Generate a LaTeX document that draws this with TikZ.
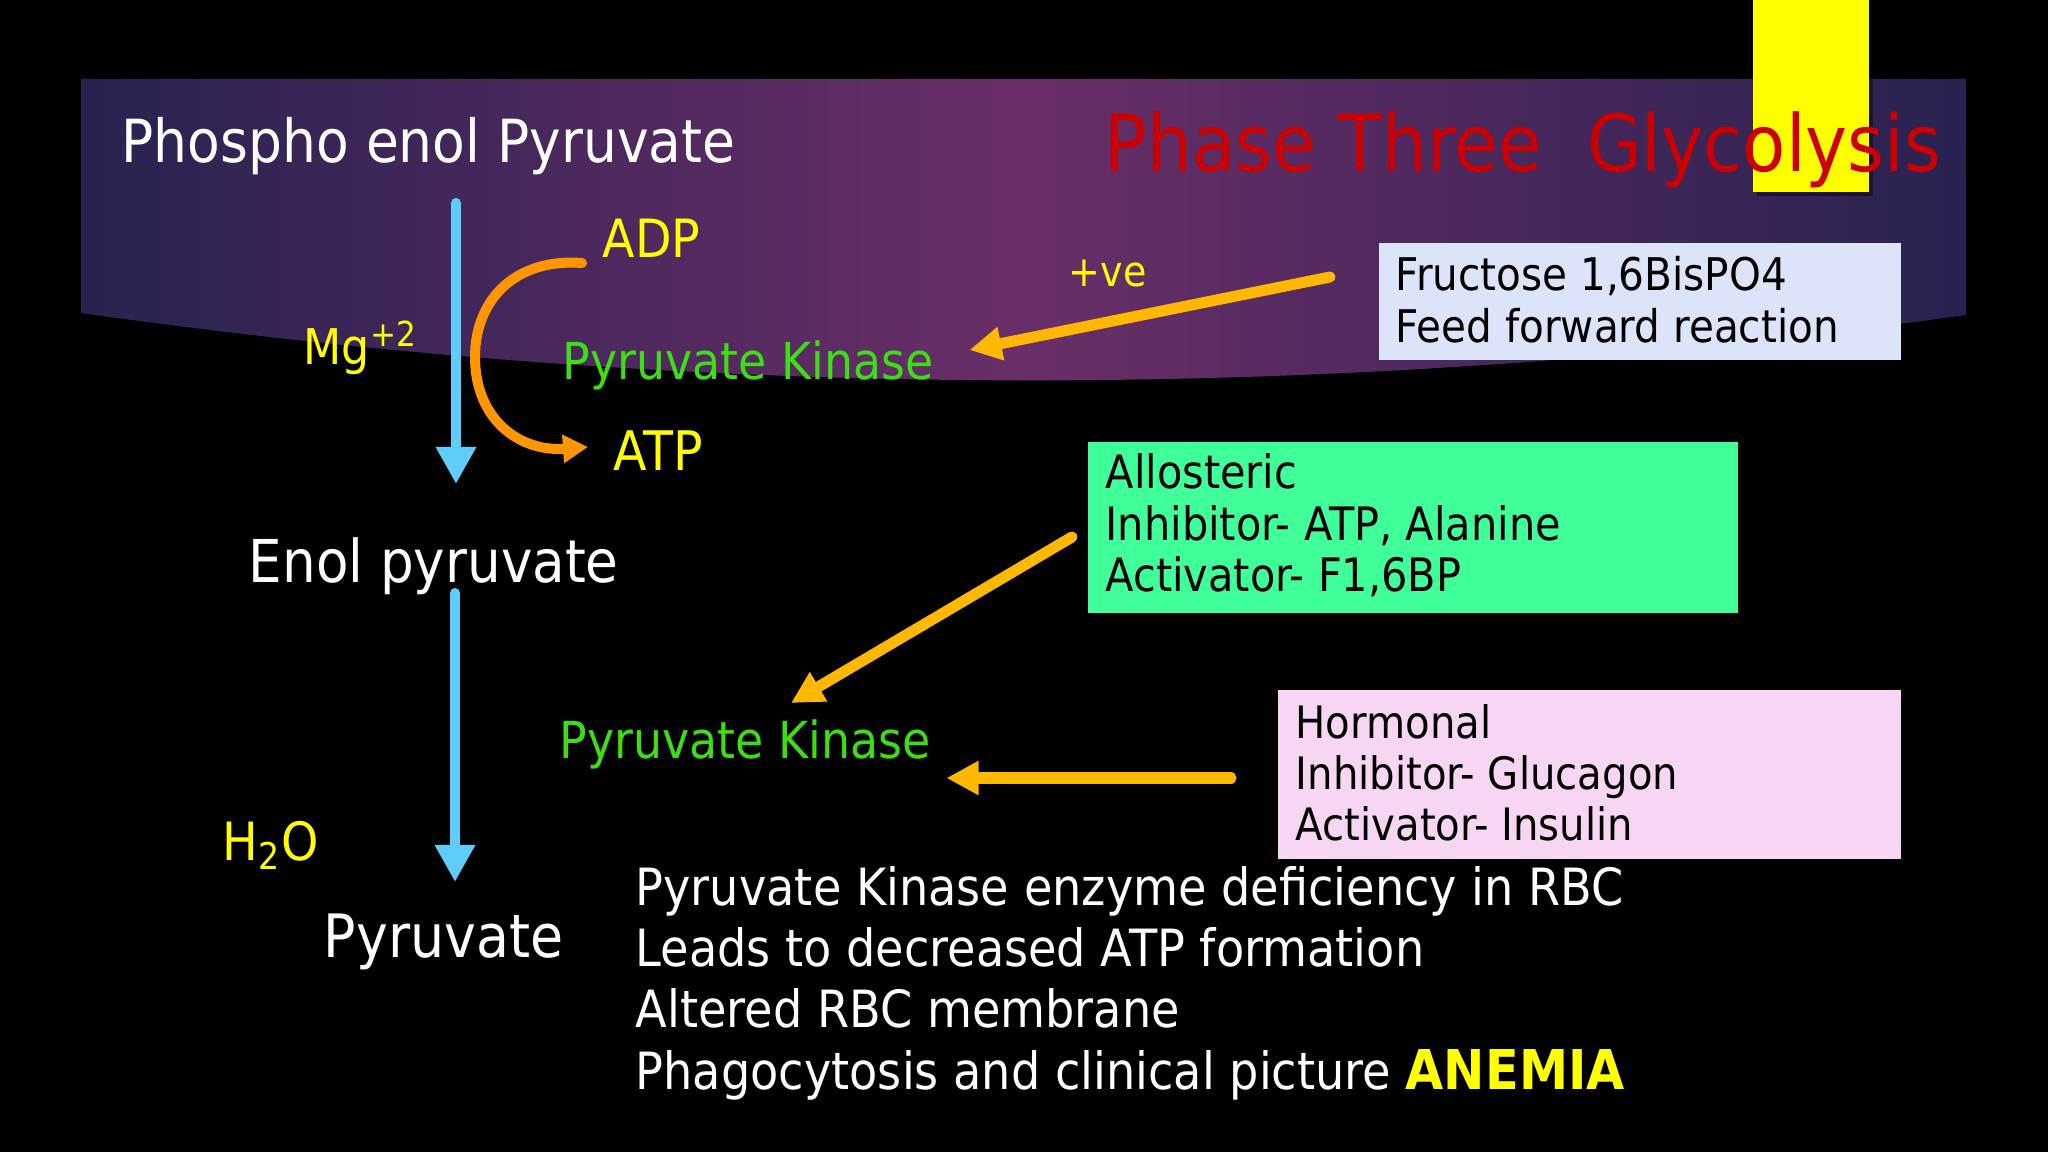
\documentclass[tikz,border=0pt]{standalone}
\usepackage{fontspec}
\setmainfont{DejaVu Sans}[FakeStretch=0.9]
\usetikzlibrary{calc,arrows.meta}
\definecolor{bgdark}{RGB}{40,34,80}
\definecolor{bgmid}{RGB}{106,46,104}
\definecolor{titlered}{RGB}{204,0,0}
\definecolor{pkgreen}{RGB}{60,222,20}
\definecolor{txtyellow}{RGB}{255,255,0}
\definecolor{arrowblue}{RGB}{95,205,250}
\definecolor{arcorange}{RGB}{255,150,0}
\definecolor{arrowgold}{RGB}{255,184,0}
\definecolor{fruccol}{RGB}{220,228,250}
\definecolor{allocol}{RGB}{64,255,152}
\definecolor{hormcol}{RGB}{246,214,242}
\newcommand\fs[2]{\fontsize{#1pt}{#2pt}\selectfont}
\begin{document}
\begin{tikzpicture}[x=0.01cm,y=-0.01cm,
  txt/.style={anchor=base west, inner sep=0pt},
  box/.style={anchor=north west, inner xsep=0.17cm, inner ysep=0pt, text=black},
  bluearrow/.style={draw=arrowblue, line width=0.1cm, line cap=round, -{Triangle[length=0.37cm,width=0.38cm]}},
  goldarrow/.style={draw=arrowgold, line width=0.11cm, line cap=round, -{Triangle[length=0.32cm,width=0.32cm]}},
  orangearc/.style={draw=arcorange, line width=0.1cm, line cap=round, -{Triangle[length=0.25cm,width=0.27cm]}}]
\useasboundingbox (0,0) rectangle (2048,1152);
\fill[black] (0,0) rectangle (2048,1152);
% banner
\shade[left color=bgdark, right color=bgdark, middle color=bgmid]
  (81,79) -- (1966,79) -- (1966,315) .. controls (1337,403) and (709,402) .. (81,313) -- cycle;
% yellow bar
\fill[black, opacity=0.45] (1757,4) rectangle (1873,196);
\fill[txtyellow] (1753,0) rectangle (1869,192);
% texts
\node[txt, text=white] (pep) at (121,163) {\fs{16.9}{20}Phospho enol Pyruvate};
\node[txt, text=titlered] (title) at (1104,172) {\fs{22.4}{26}Phase Three\ \ Glycolysis};
\node[txt, text=txtyellow] (adp) at (602,258) {\fs{15}{18}ADP};
\node[txt, text=txtyellow] (atp) at (613,471) {\fs{15.5}{18}ATP};
\node[txt, text=txtyellow] (mg) at (303,365) {\fs{14}{17}Mg\textsuperscript{+2}};
\node[txt, text=pkgreen] (pk1) at (562,380) {\fs{14.5}{17}Pyruvate Kinase};
\node[txt, text=txtyellow] (ve) at (1068,287) {\fs{12}{14}+ve};
\node[txt, text=white] (enol) at (248,583) {\fs{16.8}{20}Enol pyruvate};
\node[txt, text=white] (pyr) at (323,957) {\fs{17}{20}Pyruvate};
\node[txt, text=txtyellow] (water) at (222,860) {\fs{15}{18}H\textsubscript{2}O};
\node[txt, text=pkgreen] (pk2) at (559,758) {\fs{14.5}{17}Pyruvate Kinase};
% boxes
\node[box, fill=fruccol, text height=0.48cm, text depth=0.69cm] (fruc) at (1378,242)
  {\fs{12.8}{14.8}\begin{tabular}[t]{@{}p{4.88cm}@{}}Fructose 1,6BisPO4\\Feed forward reaction\end{tabular}};
\node[box, fill=allocol, inner xsep=0.18cm, text height=0.47cm, text depth=1.24cm] (allo) at (1087,441)
  {\fs{13.1}{14.65}\begin{tabular}[t]{@{}p{6.14cm}@{}}Allosteric\\Inhibitor- ATP, Alanine\\Activator- F1,6BP\end{tabular}};
\node[box, fill=hormcol, inner xsep=0.18cm, text height=0.49cm, text depth=1.2cm] (horm) at (1277,689)
  {\fs{12.7}{14.4}\begin{tabular}[t]{@{}p{5.87cm}@{}}Hormonal\\Inhibitor- Glucagon\\Activator- Insulin\end{tabular}};
\node[txt, text=white] (deficiency) at (635,905)
  {\fs{14.6}{17.45}\begin{tabular}[t]{@{}l@{}}Pyruvate Kinase enzyme deficiency in RBC\\Leads to decreased ATP formation\\Altered RBC membrane\\Phagocytosis and clinical picture \textcolor{txtyellow}{\fs{15.6}{17.45}\textbf{ANEMIA}}\end{tabular}};
% connectors
\draw[bluearrow] ($(pep.base west)+(335,40)$) -- ($(enol.base west)+(208,-99)$);
\draw[bluearrow] ($(enol.base west)+(207,10)$) -- ($(pyr.base west)+(132,-75)$);
\draw[orangearc] ($(adp.base west)+(-20,5)$) .. controls (515,258) and (475,300) .. (475,357)
  .. controls (475,420) and (520,452) .. ($(atp.base west)+(-25,-24)$);
\draw[goldarrow] ($(fruc.north west)+(-48,35)$) -- ($(pk1.base east)+(35,-30)$);
\draw[goldarrow] ($(allo.north west)+(-15,96)$) -- ($(pk2.base west)+(232,-55)$);
\draw[goldarrow] ($(horm.north west)+(-46,89)$) -- ($(pk2.base east)+(15,20)$);
\end{tikzpicture}
\end{document}
